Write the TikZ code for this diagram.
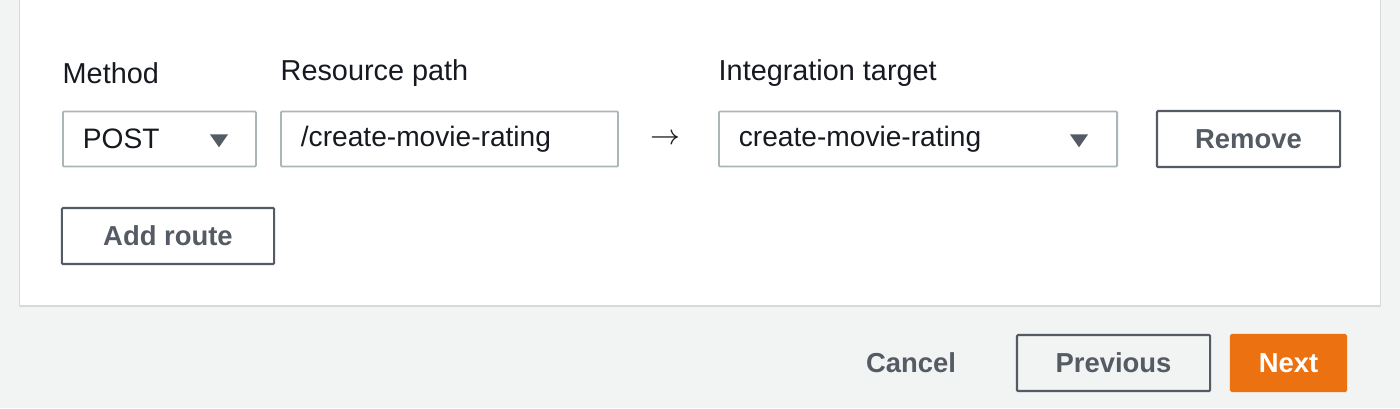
\documentclass[tikz,border=0pt]{standalone}
\usepackage{fontspec}
\setmainfont{Liberation Sans}
\usetikzlibrary{positioning, calc}
\definecolor{pagebg}{HTML}{F2F3F3}
\definecolor{inkdark}{HTML}{16191F}
\definecolor{btnline}{HTML}{545B64}
\definecolor{fieldline}{HTML}{AAB7B8}
\definecolor{awsorange}{HTML}{EC7211}
\begin{document}
\begin{tikzpicture}[
    x=0.01cm, y=-0.01cm,
    labelstyle/.style={font=\fontsize{8.2pt}{10pt}\selectfont, text=inkdark, anchor=west, inner sep=0pt},
    fieldbox/.style={draw=fieldline, line width=0.5pt, rounded corners=0.3pt, minimum height=0.55cm, anchor=west,
        font=\fontsize{8pt}{10pt}\selectfont, text=inkdark, align=left, inner xsep=0.2cm, text width=#1},
    btnbox/.style={draw=btnline, line width=0.6pt, rounded corners=0.3pt, minimum height=0.56cm,
        font=\bfseries\fontsize{7.8pt}{10pt}\selectfont, text=btnline, minimum width=#1},
    dropmark/.style={fill=btnline, isosceles triangle, shape border rotate=-90, isosceles triangle apex angle=70,
        inner sep=0pt, minimum width=0.17cm, minimum height=0.13cm}
]
\usetikzlibrary{shapes.geometric}
\fill[pagebg] (0,0) rectangle (1400,408);
\useasboundingbox (0,0) rectangle (1400,408);

% Panel
\fill[black!15] (19,0) rectangle (1381,307);
\fill[white] (20,0) rectangle (1380,305);

% Column labels
\node (method_label) [labelstyle] at (62,73) {Method};
\node (path_label) [labelstyle] at (280,73) {Resource path};
\node (target_label) [labelstyle] at (718,73) {Integration target};

% Route row
\node (method_box) [fieldbox=1.53cm] at (62,139) {POST};
\node (method_drop) [dropmark] at (219,139) {};
\node (path_box) [fieldbox=2.97cm] at (280,139) {/create-movie-rating};
\node (route_arrow) [labelstyle, anchor=center] at (665,139) {$\rightarrow$};
\node (target_box) [fieldbox=3.58cm] at (718,139) {create-movie-rating};
\node (target_drop) [dropmark] at (1079,139) {};
\node (remove_btn) [btnbox=1.83cm] at (1248.5,139) {Remove};

% Add route
\node (add_btn) [btnbox=2.12cm] at (168,236) {Add route};

% Footer buttons
\node (cancel_btn) [font=\bfseries\fontsize{7.8pt}{10pt}\selectfont, text=btnline] at (911,363) {Cancel};
\node (previous_btn) [btnbox=1.93cm] at (1113.5,363) {Previous};
\node (next_btn) [btnbox=1.15cm, fill=awsorange, draw=awsorange, text=white] at (1288.5,363) {Next};
\end{tikzpicture}
\end{document}
